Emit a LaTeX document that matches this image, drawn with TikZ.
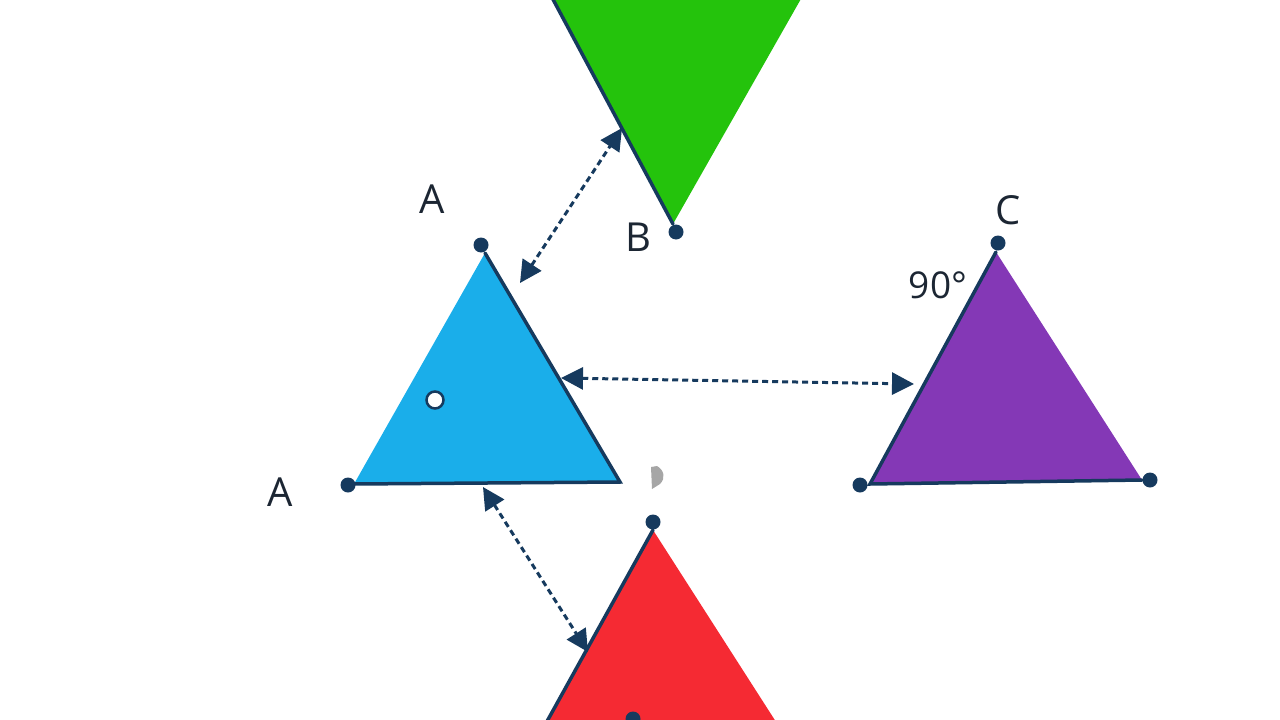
\documentclass[tikz,border=0pt]{standalone}
\usepackage{fontspec}
\setmainfont{Open Sans}
\usetikzlibrary{arrows.meta}
\definecolor{navy}{HTML}{163A5E}
\definecolor{cblue}{HTML}{1AAEEA}
\definecolor{cgreen}{HTML}{24C30C}
\definecolor{cpurple}{HTML}{8438B6}
\definecolor{cred}{HTML}{F52A33}
\definecolor{txt}{HTML}{1C2633}
\tikzset{
  edge/.style={draw=navy,line width=3.5pt,line cap=round},
  vdot/.style={circle,fill=navy,inner sep=0pt,minimum size=15pt},
  lbl/.style={text=txt,font=\fontsize{40}{48}\selectfont,inner sep=0pt},
  link/.style={draw=navy,line width=3pt,dash pattern=on 6pt off 4pt,
    {Triangle[length=22pt,width=22pt]}-{Triangle[length=22pt,width=22pt]}}
}
\begin{document}
\begin{tikzpicture}[x=1pt,y=-1pt]
\useasboundingbox (0,0) rectangle (1280,720);
% vertices
\coordinate (bA) at (485,253);
\coordinate (bL) at (354,484);
\coordinate (bR) at (620,482);
\coordinate (gL) at (548,-10);
\coordinate (gR) at (806,-10);
\coordinate (gB) at (673,224);
\coordinate (pC) at (996,252);
\coordinate (pL) at (870,484);
\coordinate (pR) at (1142,480);
\coordinate (rT) at (653,530);
\coordinate (rL) at (545,725);
\coordinate (rR) at (778,725);
% triangles
\fill[cgreen] (gL) -- (gR) -- (gB) -- cycle;
\draw[edge] (gL) -- (gB);
\fill[cblue] (bA) -- (bR) -- (bL) -- cycle;
\draw[edge] (bA) -- (bR) -- (bL);
\fill[cpurple] (pC) -- (pR) -- (pL) -- cycle;
\draw[edge] (pC) -- (pL) -- (pR);
\fill[cred] (rT) -- (rR) -- (rL) -- cycle;
\draw[edge] (rT) -- (rL);
% vertex dots
\node[vdot] (dbA) at (481,245) {};
\node[vdot] (dbL) at (348,485) {};
\node[vdot] (dgB) at (676,232) {};
\node[vdot] (dpC) at (998,243) {};
\node[vdot] (dpL) at (860,485) {};
\node[vdot] (dpR) at (1150,480) {};
\node[vdot] (drT) at (653,522) {};
\node[vdot] (drB) at (633,719) {};
% small marker
\node[circle,draw=navy,fill=white,line width=2.5pt,inner sep=0pt,minimum size=17pt] (mk) at (435,400) {};
% grey artifact
\fill[gray!70] (651,467) -- (657,466) .. controls (664,470) and (666,478) .. (660,484) -- (652,489) -- cycle;
% labels
\node[lbl] (lA1) at (432,199) {A};
\node[lbl] (lB) at (638,237) {B};
\node[lbl] (lC) at (1008,210) {C};
\node[lbl,font=\fontsize{37}{44}\selectfont] (l90) at (938,285) {90°};
\node[lbl] (lA2) at (280,492) {A};
% connector ends
\coordinate (e1a) at (520,283);
\coordinate (e1b) at (622,128);
\coordinate (e2a) at (561,378);
\coordinate (e2b) at (914,384);
\coordinate (e3a) at (483,487);
\coordinate (e3b) at (588,652);
\draw[link] (e1a) -- (e1b);
\draw[link] (e2a) -- (e2b);
\draw[link] (e3a) -- (e3b);
\end{tikzpicture}
\end{document}
